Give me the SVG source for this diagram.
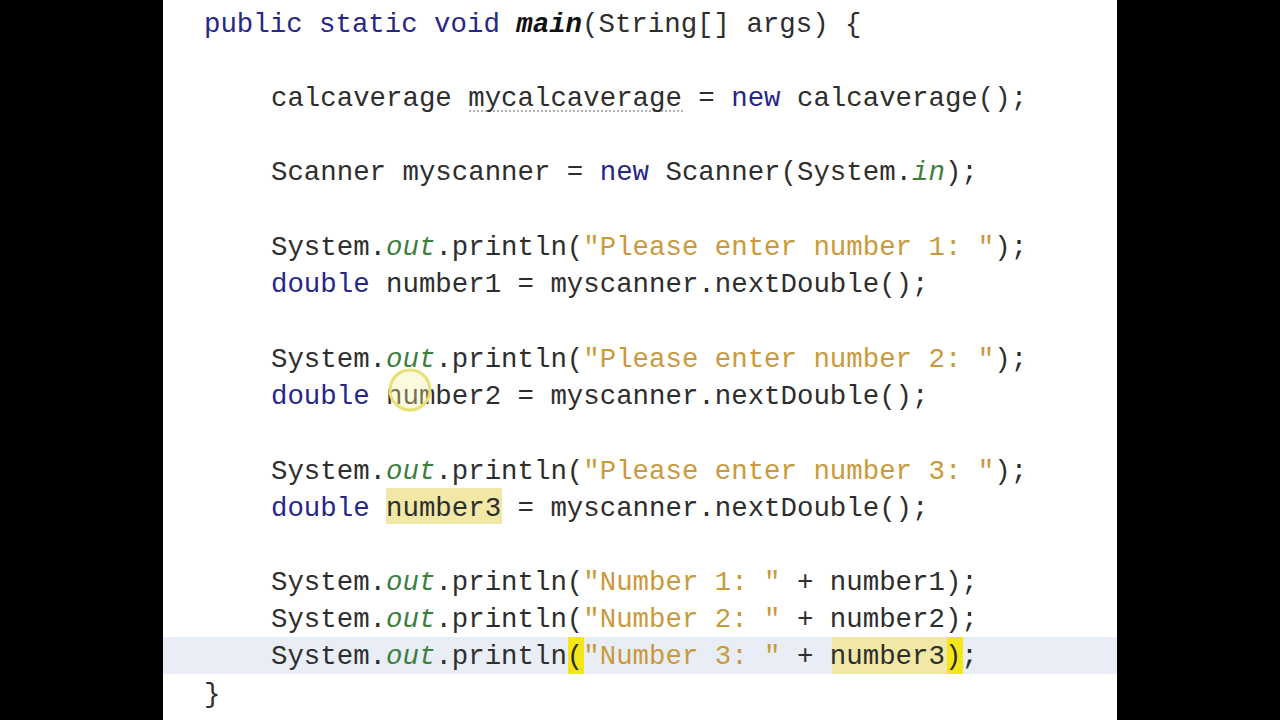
<svg xmlns="http://www.w3.org/2000/svg" width="1280" height="720" viewBox="0 0 1280 720">
<style>
text{font-family:"Liberation Mono","Courier New",monospace;font-size:27.4px;fill:#2e2e2e;white-space:pre}
.k{fill:#27278a}.f{fill:#3d7f3d;font-style:italic}.s{fill:#c99a3c}.b{font-weight:bold;font-style:italic;fill:#111}
</style>
<rect width="1280" height="720" fill="#000"/>
<rect x="163" y="0" width="954" height="720" fill="#fff"/>
<rect x="163" y="637" width="954" height="37" fill="#e9eef6"/>
<rect x="386" y="488" width="116" height="36" fill="#f1e8a6"/>
<rect x="832" y="637" width="115" height="37" fill="#f1e8a6"/>
<rect x="568" y="637" width="16" height="37" fill="#f5e61a"/>
<rect x="947" y="637" width="16" height="37" fill="#f5e61a"/>
<line x1="469" y1="111" x2="683" y2="111" stroke="#999" stroke-width="1.5" stroke-dasharray="2 2"/>
<text xml:space="preserve" x="204" y="32"><tspan class="k">public static void </tspan><tspan class="b">main</tspan>(String[] args) {</text>
<text xml:space="preserve" x="271" y="106">calcaverage mycalcaverage = <tspan class="k">new</tspan> calcaverage();</text>
<text xml:space="preserve" x="271" y="180">Scanner myscanner = <tspan class="k">new</tspan> Scanner(System.<tspan class="f">in</tspan>);</text>
<text xml:space="preserve" x="271" y="255">System.<tspan class="f">out</tspan>.println(<tspan class="s">"Please enter number 1: "</tspan>);</text>
<text xml:space="preserve" x="271" y="292"><tspan class="k">double</tspan> number1 = myscanner.nextDouble();</text>
<text xml:space="preserve" x="271" y="367">System.<tspan class="f">out</tspan>.println(<tspan class="s">"Please enter number 2: "</tspan>);</text>
<text xml:space="preserve" x="271" y="404"><tspan class="k">double</tspan> number2 = myscanner.nextDouble();</text>
<text xml:space="preserve" x="271" y="479">System.<tspan class="f">out</tspan>.println(<tspan class="s">"Please enter number 3: "</tspan>);</text>
<text xml:space="preserve" x="271" y="516"><tspan class="k">double</tspan> number3 = myscanner.nextDouble();</text>
<text xml:space="preserve" x="271" y="590">System.<tspan class="f">out</tspan>.println(<tspan class="s">"Number 1: "</tspan> + number1);</text>
<text xml:space="preserve" x="271" y="627">System.<tspan class="f">out</tspan>.println(<tspan class="s">"Number 2: "</tspan> + number2);</text>
<text xml:space="preserve" x="271" y="664">System.<tspan class="f">out</tspan>.println(<tspan class="s">"Number 3: "</tspan> + number3);</text>
<text x="204" y="702">}</text>
<circle cx="410" cy="390" r="20" fill="#f6f0a0" fill-opacity="0.35" stroke="#e8e070" stroke-width="3"/>
</svg>
